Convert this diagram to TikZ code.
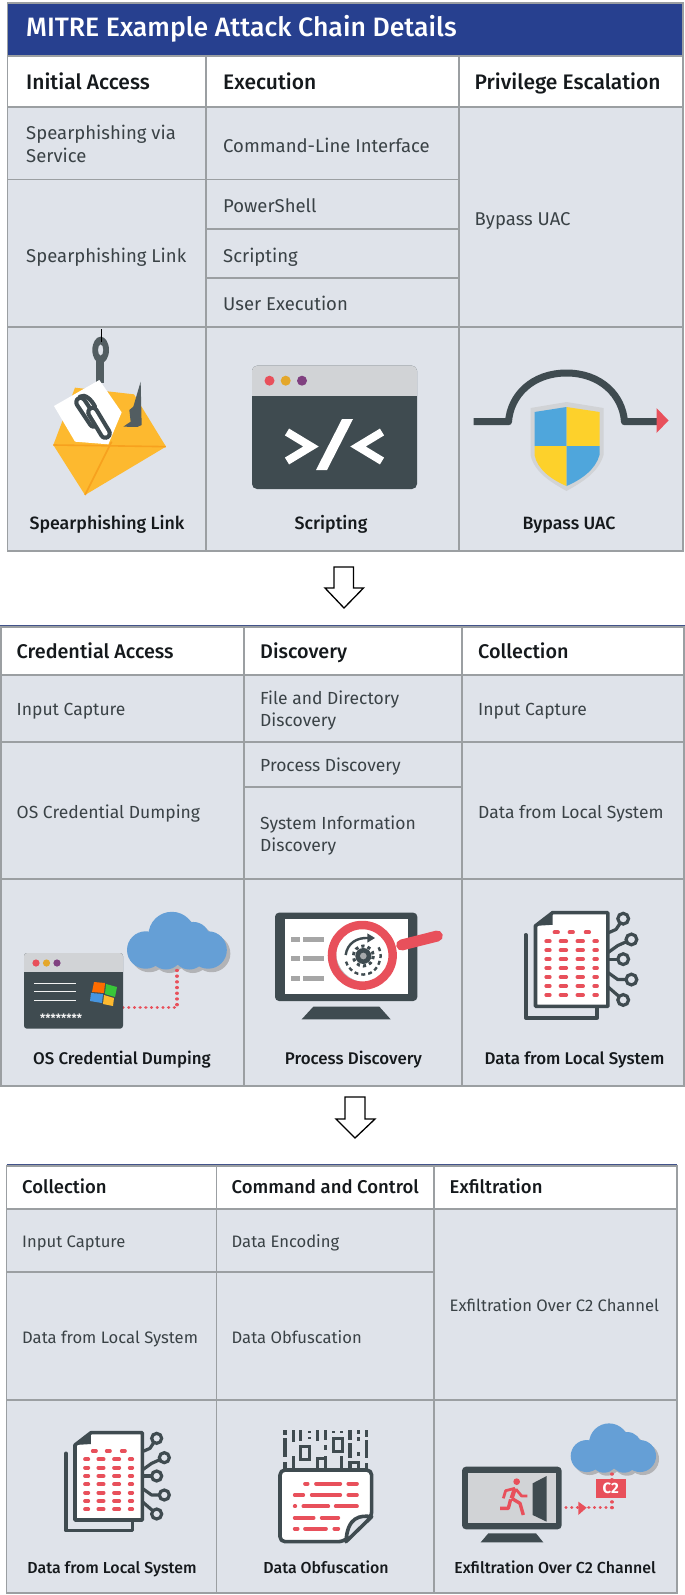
\documentclass[tikz,border=0pt]{standalone}
\usepackage{fontspec}
\setmainfont{Fira Sans}
\newfontfamily\boldish{Fira Sans Medium}
\definecolor{cellbg}{HTML}{DFE3EA}
\definecolor{rule}{HTML}{9B9FA2}
\definecolor{navy}{HTML}{27408F}
\definecolor{slate}{HTML}{3F4B50}
\definecolor{bartop}{HTML}{D1D3D6}
\definecolor{redx}{HTML}{E8505B}
\definecolor{amber}{HTML}{FDB92F}
\definecolor{amberd}{HTML}{F7A11E}
\definecolor{skyb}{HTML}{4FA6DC}
\definecolor{yell}{HTML}{FDD12B}
\definecolor{cloudb}{HTML}{659FD6}
\definecolor{txt}{HTML}{3A4246}
\definecolor{txtb}{HTML}{15191C}
\tikzset{
 cell/.style={draw=rule,line width=1.8pt,fill=cellbg},
 headcell/.style={draw=rule,line width=1.8pt,fill=white},
 lbl/.style={anchor=base west,inner sep=0pt,text=txt},
 hdr/.style={anchor=base west,inner sep=0pt,text=txtb,font=\boldish\fontsize{#1}{#1}\selectfont},
 cap/.style={anchor=base,inner sep=0pt,text=txtb,font=\boldish\fontsize{#1}{#1}\selectfont},
 blockarrow/.style={draw=black,line width=1.3pt,fill=white,line join=miter},
 reddots/.style={draw=redx,line width=3.3pt,line cap=round,dash pattern=on 0.1pt off 5.6pt},
 reddash/.style={draw=redx,line width=3.7pt,line cap=round},
 linkchain/.style={draw=slate,line width=4.2pt,double=white,double distance=4.6pt,line cap=round},
}
\newcommand{\cloudat}[3]{% x y scale : local box 0..263 x 0..150
 \begin{scope}[shift={(#1,#2)},scale=#3]
  \foreach \ox/\oy/\col in {9/9/bartop!85!black,0/0/cloudb}{
  \fill[\col] (48+\ox,100+\oy) circle[radius=48] (115+\ox,62+\oy) circle[radius=60]
   (170+\ox,70+\oy) circle[radius=42] (208+\ox,100+\oy) circle[radius=48]
   (100+\ox,108+\oy) circle[radius=42] (160+\ox,108+\oy) circle[radius=42];}
 \end{scope}}
\newcommand{\docicon}[3]{% zoom-12 units
 \begin{scope}[shift={(#1,#2)},scale=#3]
  \draw[slate,line width=3.6pt,line cap=round,line join=round] (33,100) -- (33,332) -- (232,332) -- (232,305);
  \foreach \cx/\cy/\ax/\ay/\bx/\by in {305/55/262/95/285/85,328/113/262/150/290/130,305/168/262/168/280/168,328/225/262/205/290/225,305/282/262/245/285/265}{
   \draw[slate,line width=3.2pt,line join=round] (\ax,\ay) -- (\bx,\by) -- (\cx,\cy);
   \draw[slate,line width=3.2pt,fill=cellbg] (\cx,\cy) circle[radius=15];}
  \draw[slate,line width=3.6pt,fill=white,line join=round] (60,75) -- (108,38) -- (262,38) -- (262,300) -- (60,300) -- cycle;
  \fill[slate] (60,75) -- (108,38) -- (108,72) -- cycle;
  \foreach \dx in {118,160,205}{\draw[reddash] (\dx-5,93) -- (\dx+5,93);}
  \foreach \dy in {118,143,168,193,218,243,268}{
   \foreach \dx/\dw in {95/5,138/8,185/8,228/4}{\draw[reddash] (\dx-\dw,\dy) -- (\dx+\dw,\dy);}}
 \end{scope}}
\begin{document}
\begin{tikzpicture}[x=1pt,y=-1pt]
\useasboundingbox (0,0) rectangle (685,1595);
\fill[white] (0,0) rectangle (685,1595);
%% ---------- table 1
\draw[rule,line width=1.8pt,fill=navy] (7.5,3) rectangle (683,56);
\node[anchor=base west,inner sep=0pt,text=white,font=\boldish\fontsize{26.6}{26.6}\selectfont] (title) at (26,37) {MITRE Example Attack Chain Details};
\draw[headcell] (7.5,56) rectangle (206,107);
\draw[headcell] (206,56) rectangle (459,107);
\draw[headcell] (459,56) rectangle (683,107);
\draw[cell] (7.5,107) rectangle (206,179.5);
\draw[cell] (7.5,179.5) rectangle (206,327);
\draw[cell] (206,107) rectangle (459,179.5);
\draw[cell] (206,179.5) rectangle (459,229);
\draw[cell] (206,229) rectangle (459,278);
\draw[cell] (206,278) rectangle (459,327);
\draw[cell] (459,107) rectangle (683,327);
\draw[cell] (7.5,327) rectangle (206,551);
\draw[cell] (206,327) rectangle (459,551);
\draw[cell] (459,327) rectangle (683,551);
\begin{scope}[every node/.append style={font=\fontsize{18.5}{18.5}\selectfont}]
\node[lbl] (a1) at (26,139) {Spearphishing via};
\node[lbl] (a2) at (26,162) {Service};
\node[lbl] (a3) at (26,262) {Spearphishing Link};
\node[lbl] (a4) at (223,152) {Command-Line Interface};
\node[lbl] (a5) at (223,212) {PowerShell};
\node[lbl] (a6) at (223,262) {Scripting};
\node[lbl] (a7) at (223,310) {User Execution};
\node[lbl] (a8) at (474.5,225) {Bypass UAC};
\end{scope}
\node[hdr=21] (h1) at (26,89) {Initial Access};
\node[hdr=21] (h2) at (223,89) {Execution};
\node[hdr=21] (h3) at (474.5,89) {Privilege Escalation};
\node[cap=17.8] (c1) at (107,529) {Spearphishing Link};
\node[cap=17.8] (c2) at (331,529) {Scripting};
\node[cap=17.8] (c3) at (569,529) {Bypass UAC};
% envelope / hook
\begin{scope}[shift={(30,325)},scale=0.3333]
 \fill[amber] (70,360) -- (135,188) -- (312,208) -- (408,365) -- (165,510) -- cycle;
 \draw[amberd,line width=1.6pt] (70,360) -- (408,365) (165,510) -- (245,350);
 \fill[slate!90] (198,100) rectangle (222,175);
 \fill[slate!90,even odd rule] (212,75) ellipse[x radius=25,y radius=40] (212,75) ellipse[x radius=8,y radius=17];
 \draw[black,line width=1.6pt] (214,12) -- (214,50);
 \fill[white] (72,243) -- (208,165) -- (275,262) -- (235,358) -- (135,350) -- cycle;
 \draw[linkchain] (152,232) -- (192,292);
 \draw[linkchain] (188,262) -- (226,325);
 \draw[slate,line width=4.2pt,line cap=round] (150,215) .. controls (165,205) and (185,225) .. (195,245);
 \fill[slate!90] (332,170) -- (335,300) -- (322,306) -- (280,305) -- (302,290) -- (298,255) -- (310,245) -- cycle;
\end{scope}
% scripting window
\begin{scope}[shift={(-2,0)}]
\fill[slate,rounded corners=5pt] (254,365.7) rectangle (419,489);
\fill[bartop,rounded corners=5pt] (254,365.7) rectangle (419,390);
\fill[bartop] (254,380) rectangle (419,396);
\fill[redx] (271.5,380.7) circle[radius=5];
\fill[amber!90!black] (287.7,380.7) circle[radius=5];
\fill[violet!50!gray] (304,380.7) circle[radius=5];
\draw[white,line width=8pt,line join=miter] (289,432) -- (313,446.5) -- (289,461);
\draw[white,line width=8pt,line join=miter] (384,432) -- (360,446.5) -- (384,461);
\fill[white] (344,419) -- (355,419) -- (329,470) -- (318,470) -- cycle;
\end{scope}
% bypass
\begin{scope}[shift={(-2.5,0)}]
\draw[slate,line width=7pt,line join=round] (476,421.7) -- (511,421.7) .. controls (513,395) and (535,373) .. (569,373) .. controls (603,373) and (625,395) .. (627,421.7) -- (660,421.7);
\fill[redx] (659,408) -- (671,420.5) -- (659,433) -- cycle;
\fill[bartop] (569,402) -- (533,408) -- (533,455) .. controls (537,473) and (555,483) .. (569,491) .. controls (583,483) and (601,473) .. (606,455) -- (606,408) -- cycle;
\fill[skyb] (569,407) -- (537,412) -- (537,446) -- (569,446) -- cycle;
\fill[yell] (569,407) -- (602,412) -- (602,446) -- (569,446) -- cycle;
\fill[yell] (537,446) -- (569,446) -- (569,486) .. controls (555,480) and (540,470) .. (537,455) -- cycle;
\fill[skyb] (602,446) -- (569,446) -- (569,486) .. controls (583,480) and (598,470) .. (602,455) -- cycle;
\end{scope}
%% arrow 1
\draw[blockarrow] (334,567) -- (353.5,567) -- (353.5,588) -- (363.5,588) -- (344,608) -- (325,588) -- (334,588) -- cycle;
%% ---------- table 2
\draw[navy!70!gray,line width=1.2pt] (0,626) -- (685,626);
\draw[headcell] (1,627) rectangle (243.7,675);
\draw[headcell] (243.7,627) rectangle (462,675);
\draw[headcell] (462,627) rectangle (684,675);
\draw[cell] (1,675) rectangle (243.7,741.7);
\draw[cell] (1,741.7) rectangle (243.7,879);
\draw[cell] (243.7,675) rectangle (462,741.7);
\draw[cell] (243.7,741.7) rectangle (462,787);
\draw[cell] (243.7,787) rectangle (462,879);
\draw[cell] (462,675) rectangle (684,741.7);
\draw[cell] (462,741.7) rectangle (684,879);
\draw[cell] (1,879) rectangle (243.7,1085.7);
\draw[cell] (243.7,879) rectangle (462,1085.7);
\draw[cell] (462,879) rectangle (684,1085.7);
\begin{scope}[every node/.append style={font=\fontsize{17.5}{17.5}\selectfont}]
\node[lbl] (b1) at (16.5,715) {Input Capture};
\node[lbl] (b2) at (16.5,818) {OS Credential Dumping};
\node[lbl] (b3) at (260,704) {File and Directory};
\node[lbl] (b4) at (260,726) {Discovery};
\node[lbl] (b5) at (260,771.7) {Process Discovery};
\node[lbl] (b6) at (260,829) {System Information};
\node[lbl] (b7) at (260,851) {Discovery};
\node[lbl] (b8) at (478,715) {Input Capture};
\node[lbl] (b9) at (478,818) {Data from Local System};
\end{scope}
\node[hdr=19.8] (h4) at (16.5,658) {Credential Access};
\node[hdr=19.8] (h5) at (260,658) {Discovery};
\node[hdr=19.8] (h6) at (478,658) {Collection};
\node[cap=16.9] (c4) at (122,1064) {OS Credential Dumping};
\node[cap=16.9] (c5) at (353.5,1064) {Process Discovery};
\node[cap=16.9] (c6) at (574.5,1064) {Data from Local System};
% credential dumping icon
\cloudat{127}{911}{0.39}
\draw[reddots] (123,1007.7) -- (177,1007.7) -- (177,970);
\fill[slate,rounded corners=3pt] (24,953) rectangle (123,1028.7);
\fill[bartop,rounded corners=3pt] (24,953) rectangle (123,965);
\fill[bartop] (24,960) rectangle (123,972);
\fill[redx] (36,963) circle[radius=3.6];
\fill[amber!90!black] (46.5,963) circle[radius=3.6];
\fill[violet!50!gray] (57,963) circle[radius=3.6];
\draw[white!90!gray,line width=1.2pt] (34,983.3) -- (76,983.3) (34,991.7) -- (76,991.7) (34,1000.7) -- (76,1000.7);
\node[inner sep=0pt,text=white!90!gray,font=\bfseries\fontsize{11.5}{11.5}\selectfont] (stars) at (61,1018) {********};
\fill[orange!85!red] (94,982) -- (105,983) -- (104,993) -- (92,992) -- cycle;
\fill[green!55!gray] (106,984) -- (117,987) -- (115,997) -- (105,994) -- cycle;
\fill[skyb!90!blue] (91,993) -- (103,994) -- (102,1003) -- (90,1001) -- cycle;
\fill[amber] (104,995) -- (114,998) -- (113,1006) -- (103,1004) -- cycle;
% process discovery icon
\begin{scope}[shift={(260,900)},scale=0.3333]
 \fill[slate,rounded corners=4pt] (45,38) rectangle (472,303);
 \fill[white] (75,58) rectangle (443,282);
 \fill[slate] (160,320) -- (358,320) -- (392,358) -- (125,358) -- cycle;
 \foreach \yy in {118,176,235}{
  \fill[gray!70] (92,\yy-8) rectangle (120,\yy+8);
  \fill[gray!70] (128,\yy-8) rectangle (193,\yy+8);}
 \draw[redx,line width=11pt,line cap=round] (425,135) -- (532,108);
 \fill[bartop!90!black] (307,166) circle[radius=92];
 \fill[white] (317,158) circle[radius=88];
 \draw[redx,line width=8.5pt] (307,166) circle[radius=91];
 \fill[slate] (310,168) circle[radius=24];
 \draw[slate,line width=3pt,dash pattern=on 3.2pt off 3.2pt] (310,168) circle[radius=30];
 \fill[bartop!80!black] (310,168) circle[radius=10];
 \draw[slate,line width=2.4pt] (257,165) .. controls (262,130) and (290,112) .. (325,114);
 \fill[slate] (322,100) -- (345,114) -- (322,128) -- cycle;
 \draw[slate,line width=2.4pt,dash pattern=on 4pt off 3pt] (258,185) .. controls (275,235) and (345,240) .. (360,180) .. controls (365,165) and (360,150) .. (355,140);
\end{scope}
\docicon{514}{899}{0.358}
%% arrow 2
\draw[blockarrow] (345,1097) -- (365,1097) -- (365,1119) -- (375,1119) -- (355,1138) -- (336,1119) -- (345,1119) -- cycle;
%% ---------- table 3
\draw[navy!70!gray,line width=1.2pt] (6.5,1165) -- (677,1165);
\draw[headcell] (6.5,1166) rectangle (216.5,1209);
\draw[headcell] (216.5,1166) rectangle (433.7,1209);
\draw[headcell] (433.7,1166) rectangle (677,1209);
\draw[cell] (6.5,1209) rectangle (216.5,1272);
\draw[cell] (6.5,1272) rectangle (216.5,1400);
\draw[cell] (216.5,1209) rectangle (433.7,1272);
\draw[cell] (216.5,1272) rectangle (433.7,1400);
\draw[cell] (433.7,1209) rectangle (677,1400);
\draw[cell] (6.5,1400) rectangle (216.5,1593);
\draw[cell] (216.5,1400) rectangle (433.7,1593);
\draw[cell] (433.7,1400) rectangle (677,1593);
\begin{scope}[every node/.append style={font=\fontsize{16.6}{16.6}\selectfont}]
\node[lbl] (d1) at (22,1247) {Input Capture};
\node[lbl] (d2) at (22,1343) {Data from Local System};
\node[lbl] (d3) at (231.5,1247) {Data Encoding};
\node[lbl] (d4) at (231.5,1343) {Data Obfuscation};
\node[lbl] (d5) at (449.5,1311) {Exfiltration Over C2 Channel};
\end{scope}
\node[hdr=18.5] (h7) at (22,1193) {Collection};
\node[hdr=18.5] (h8) at (231.5,1193) {Command and Control};
\node[hdr=18.5] (h9) at (449.5,1193) {Exfiltration};
\node[cap=15.9] (c7) at (112,1573) {Data from Local System};
\node[cap=15.9] (c8) at (326,1573) {Data Obfuscation};
\node[cap=15.9] (c9) at (555,1573) {Exfiltration Over C2 Channel};
\docicon{55}{1420}{0.3333}
% obfuscation icon
\begin{scope}[shift={(260,1420)},scale=0.3333]
 \foreach \xx/\ya/\yb in {75/30/45,75/55/110,100/30/65,100/108/148,122/30/62,148/32/38,148/50/56,172/30/62,196/30/60,196/75/90,220/32/38,245/32/38,270/30/60,270/70/115,295/30/42,295/52/62,320/30/50,320/60/115,75/125/148,245/108/148,270/125/148,320/128/148,295/95/108,196/108/120}{
  \fill[slate] (\xx-5,\ya) rectangle (\xx+5,\yb);}
 \draw[slate,line width=3pt] (122,80) rectangle (148,118);
 \draw[slate,line width=3pt] (222,55) rectangle (248,95);
 \draw[slate,line width=3pt] (172,148) -- (172,115) -- (197,115) -- (197,148);
 \draw[slate,line width=3pt] (270,148) -- (270,128) -- (296,128) -- (296,148);
 \draw[slate,line width=3.6pt,fill=white,line join=round,rounded corners=5pt] (60,150) -- (335,150) -- (335,290) -- (250,365) -- (60,365) -- cycle;
 \draw[slate,line width=3.6pt,fill=cellbg,line join=round] (335,290) .. controls (300,285) and (262,290) .. (258,365) -- cycle;
 \foreach \yy/\xa/\xb in {191/135/143,191/168/241,191/265/291,225/104/130,225/155/241,225/265/291,259/104/106,259/130/205,259/227/291,293/104/161,293/185/235,326/104/113,326/135/198,326/223/235}{
  \draw[reddash] (\xa,\yy) -- (\xb,\yy);}
\end{scope}
% exfiltration icon
\begin{scope}[shift={(440,1400)},scale=0.3333]
 \fill[slate,rounded corners=4pt] (66,200) rectangle (365,388);
 \fill[bartop] (85,218) rectangle (347,370);
 \fill[slate] (145,400) -- (288,400) -- (310,427) -- (122,427) -- cycle;
 \fill[slate] (278,250) -- (320,228) -- (320,365) -- (278,345) -- cycle;
 \fill[redx] (230,245) circle[radius=10];
 \draw[redx,line width=4.2pt,line join=round] (225,265) -- (215,295);
 \draw[redx,line width=2.8pt,line join=round] (225,265) -- (197,272) -- (190,295) (228,268) -- (245,288) -- (262,288);
 \draw[redx,line width=3.4pt,line join=round] (215,295) -- (240,310) -- (250,345) (212,298) -- (205,325) -- (180,325);
 \draw[reddots] (378,323) -- (520,323);
 \fill[redx] (415,305) -- (440,323) -- (415,345) -- cycle;
 \draw[reddots] (516,323) -- (516,298);
\end{scope}
\cloudat{570.7}{1422.7}{0.3333}
\draw[reddots] (612,1474) -- (612,1480);
\fill[redx] (595.7,1479) rectangle (625.7,1497.7);
\node[inner sep=0pt,text=white,font=\bfseries\fontsize{15}{15}\selectfont] (c2tag) at (610.7,1488.5) {C2};
\end{tikzpicture}
\end{document}
